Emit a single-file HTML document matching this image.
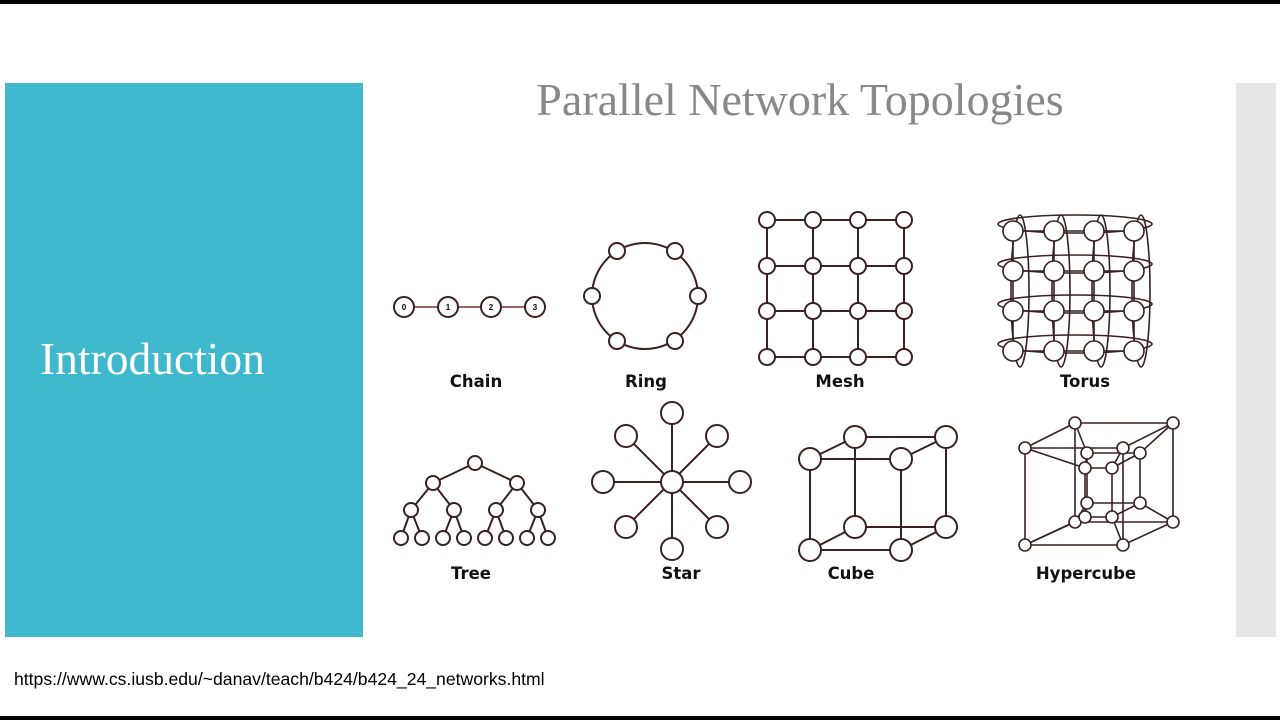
<!DOCTYPE html>
<html><head><meta charset="utf-8"><style>
html,body{margin:0;padding:0;background:#fff}
body{width:1280px;height:720px;position:relative;overflow:hidden;font-family:"Liberation Sans",sans-serif}
.bar{position:absolute;left:0;width:1280px;background:#000}
</style></head><body>
<div class="bar" style="top:0;height:4px"></div>
<div class="bar" style="top:716px;height:4px"></div>
<div style="position:absolute;left:5px;top:83px;width:358px;height:554px;background:#3fb8ce"></div>
<div style="position:absolute;left:1236px;top:83px;width:40px;height:554px;background:#e6e6e6"></div>
<div style="position:absolute;left:40px;top:332px;font-family:'Liberation Serif',serif;font-size:45.5px;color:#fff">Introduction</div>
<div style="position:absolute;left:450px;top:73px;width:700px;text-align:center;font-family:'Liberation Serif',serif;font-size:46px;color:#888">Parallel Network Topologies</div>
<div style="position:absolute;left:14px;top:669px;font-size:17.6px;color:#000">https://www.cs.iusb.edu/~danav/teach/b424/b424_24_networks.html</div>
<svg width="1280" height="720" style="position:absolute;left:0;top:0" fill="none" stroke="#3a2020" stroke-width="2">
<g font-family="DejaVu Sans,sans-serif" font-weight="bold" font-size="16.5" fill="#111" stroke="none" text-anchor="middle">
<text x="476" y="387">Chain</text><text x="646" y="387">Ring</text><text x="840" y="387">Mesh</text><text x="1085" y="387">Torus</text>
<text x="471" y="579">Tree</text><text x="681" y="579">Star</text><text x="851" y="579">Cube</text><text x="1086" y="579">Hypercube</text>
</g>
<!-- chain -->
<line x1="404" y1="307" x2="535" y2="307" stroke="#a06060"/>
<g fill="#fff"><circle cx="404" cy="307" r="10"/><circle cx="448" cy="307" r="10"/><circle cx="491" cy="307" r="10"/><circle cx="535" cy="307" r="10"/></g>
<g font-size="8" fill="#000" stroke="none" text-anchor="middle" font-weight="bold"><text x="404" y="310">0</text><text x="448" y="310">1</text><text x="491" y="310">2</text><text x="535" y="310">3</text></g>
<!-- ring -->
<circle cx="645" cy="296" r="53"/>
<g fill="#fff"><circle cx="617" cy="251" r="8"/><circle cx="675" cy="251" r="8"/><circle cx="592" cy="296" r="8"/><circle cx="698" cy="296" r="8"/><circle cx="617" cy="341" r="8"/><circle cx="675" cy="341" r="8"/></g>
<!-- mesh -->
<g>
<path d="M767 220H904M767 266H904M767 311H904M767 357H904M767 220V357M813 220V357M858 220V357M904 220V357"/>
<g fill="#fff">
<circle cx="767" cy="220" r="8"/><circle cx="813" cy="220" r="8"/><circle cx="858" cy="220" r="8"/><circle cx="904" cy="220" r="8"/>
<circle cx="767" cy="266" r="8"/><circle cx="813" cy="266" r="8"/><circle cx="858" cy="266" r="8"/><circle cx="904" cy="266" r="8"/>
<circle cx="767" cy="311" r="8"/><circle cx="813" cy="311" r="8"/><circle cx="858" cy="311" r="8"/><circle cx="904" cy="311" r="8"/>
<circle cx="767" cy="357" r="8"/><circle cx="813" cy="357" r="8"/><circle cx="858" cy="357" r="8"/><circle cx="904" cy="357" r="8"/>
</g></g>
<!-- torus -->
<g stroke-width="1.6">
<ellipse cx="1075" cy="224" rx="77" ry="9"/><ellipse cx="1075" cy="264" rx="77" ry="9"/><ellipse cx="1075" cy="304" rx="77" ry="9"/><ellipse cx="1075" cy="344" rx="77" ry="9"/>
<ellipse cx="1020" cy="291" rx="9" ry="76"/><ellipse cx="1061" cy="291" rx="9" ry="76"/><ellipse cx="1101" cy="291" rx="9" ry="76"/><ellipse cx="1141" cy="291" rx="9" ry="76"/>
<path d="M1013 231H1134M1013 271H1134M1013 311H1134M1013 351H1134M1013 231V351M1054 231V351M1094 231V351M1134 231V351"/>
<g fill="#fff">
<circle cx="1013" cy="231" r="10"/><circle cx="1054" cy="231" r="10"/><circle cx="1094" cy="231" r="10"/><circle cx="1134" cy="231" r="10"/>
<circle cx="1013" cy="271" r="10"/><circle cx="1054" cy="271" r="10"/><circle cx="1094" cy="271" r="10"/><circle cx="1134" cy="271" r="10"/>
<circle cx="1013" cy="311" r="10"/><circle cx="1054" cy="311" r="10"/><circle cx="1094" cy="311" r="10"/><circle cx="1134" cy="311" r="10"/>
<circle cx="1013" cy="351" r="10"/><circle cx="1054" cy="351" r="10"/><circle cx="1094" cy="351" r="10"/><circle cx="1134" cy="351" r="10"/>
</g></g>
<!-- tree -->
<path d="M475 463L433 483M475 463L517 483M433 483L411 510M433 483L454 510M517 483L496 510M517 483L538 510M411 510L401 538M411 510L422 538M454 510L443 538M454 510L464 538M496 510L485 538M496 510L506 538M538 510L527 538M538 510L548 538"/>
<g fill="#fff">
<circle cx="475" cy="463" r="7"/><circle cx="433" cy="483" r="7"/><circle cx="517" cy="483" r="7"/>
<circle cx="411" cy="510" r="7"/><circle cx="454" cy="510" r="7"/><circle cx="496" cy="510" r="7"/><circle cx="538" cy="510" r="7"/>
<circle cx="401" cy="538" r="7"/><circle cx="422" cy="538" r="7"/><circle cx="443" cy="538" r="7"/><circle cx="464" cy="538" r="7"/>
<circle cx="485" cy="538" r="7"/><circle cx="506" cy="538" r="7"/><circle cx="527" cy="538" r="7"/><circle cx="548" cy="538" r="7"/>
</g>
<!-- star -->
<path d="M672 413V549M603 482H740M626 436L717 527M717 436L626 527"/>
<g fill="#fff">
<circle cx="672" cy="482" r="11"/><circle cx="672" cy="413" r="11"/><circle cx="626" cy="436" r="11"/><circle cx="717" cy="436" r="11"/>
<circle cx="603" cy="482" r="11"/><circle cx="740" cy="482" r="11"/><circle cx="626" cy="527" r="11"/><circle cx="717" cy="527" r="11"/><circle cx="672" cy="549" r="11"/>
</g>
<!-- cube -->
<path d="M810 459H901V550H810ZM855 437H946V527H855ZM810 459L855 437M901 459L946 437M810 550L855 527M901 550L946 527"/>
<g fill="#fff">
<circle cx="810" cy="459" r="11"/><circle cx="901" cy="459" r="11"/><circle cx="810" cy="550" r="11"/><circle cx="901" cy="550" r="11"/>
<circle cx="855" cy="437" r="11"/><circle cx="946" cy="437" r="11"/><circle cx="855" cy="527" r="11"/><circle cx="946" cy="527" r="11"/>
</g>
<!-- hypercube -->
<g stroke-width="1.6">
<path d="M1025 448H1123V545H1025ZM1075 423H1173V522H1075ZM1025 448L1075 423M1123 448L1173 423M1025 545L1075 522M1123 545L1173 522"/>
<path d="M1085 468H1112V517H1085ZM1087 453H1140V503H1087ZM1085 468L1087 453M1112 468L1140 453M1085 517L1087 503M1112 517L1140 503"/>
<path d="M1025 448L1085 468M1123 448L1112 468M1025 545L1085 517M1123 545L1112 517M1075 423L1087 453M1173 423L1140 453M1075 522L1087 503M1173 522L1140 503"/>
<g fill="#fff">
<circle cx="1025" cy="448" r="6"/><circle cx="1123" cy="448" r="6"/><circle cx="1025" cy="545" r="6"/><circle cx="1123" cy="545" r="6"/>
<circle cx="1075" cy="423" r="6"/><circle cx="1173" cy="423" r="6"/><circle cx="1075" cy="522" r="6"/><circle cx="1173" cy="522" r="6"/>
<circle cx="1085" cy="468" r="6"/><circle cx="1112" cy="468" r="6"/><circle cx="1085" cy="517" r="6"/><circle cx="1112" cy="517" r="6"/>
<circle cx="1087" cy="453" r="6"/><circle cx="1140" cy="453" r="6"/><circle cx="1087" cy="503" r="6"/><circle cx="1140" cy="503" r="6"/>
</g></g>
</svg>
</body></html>
